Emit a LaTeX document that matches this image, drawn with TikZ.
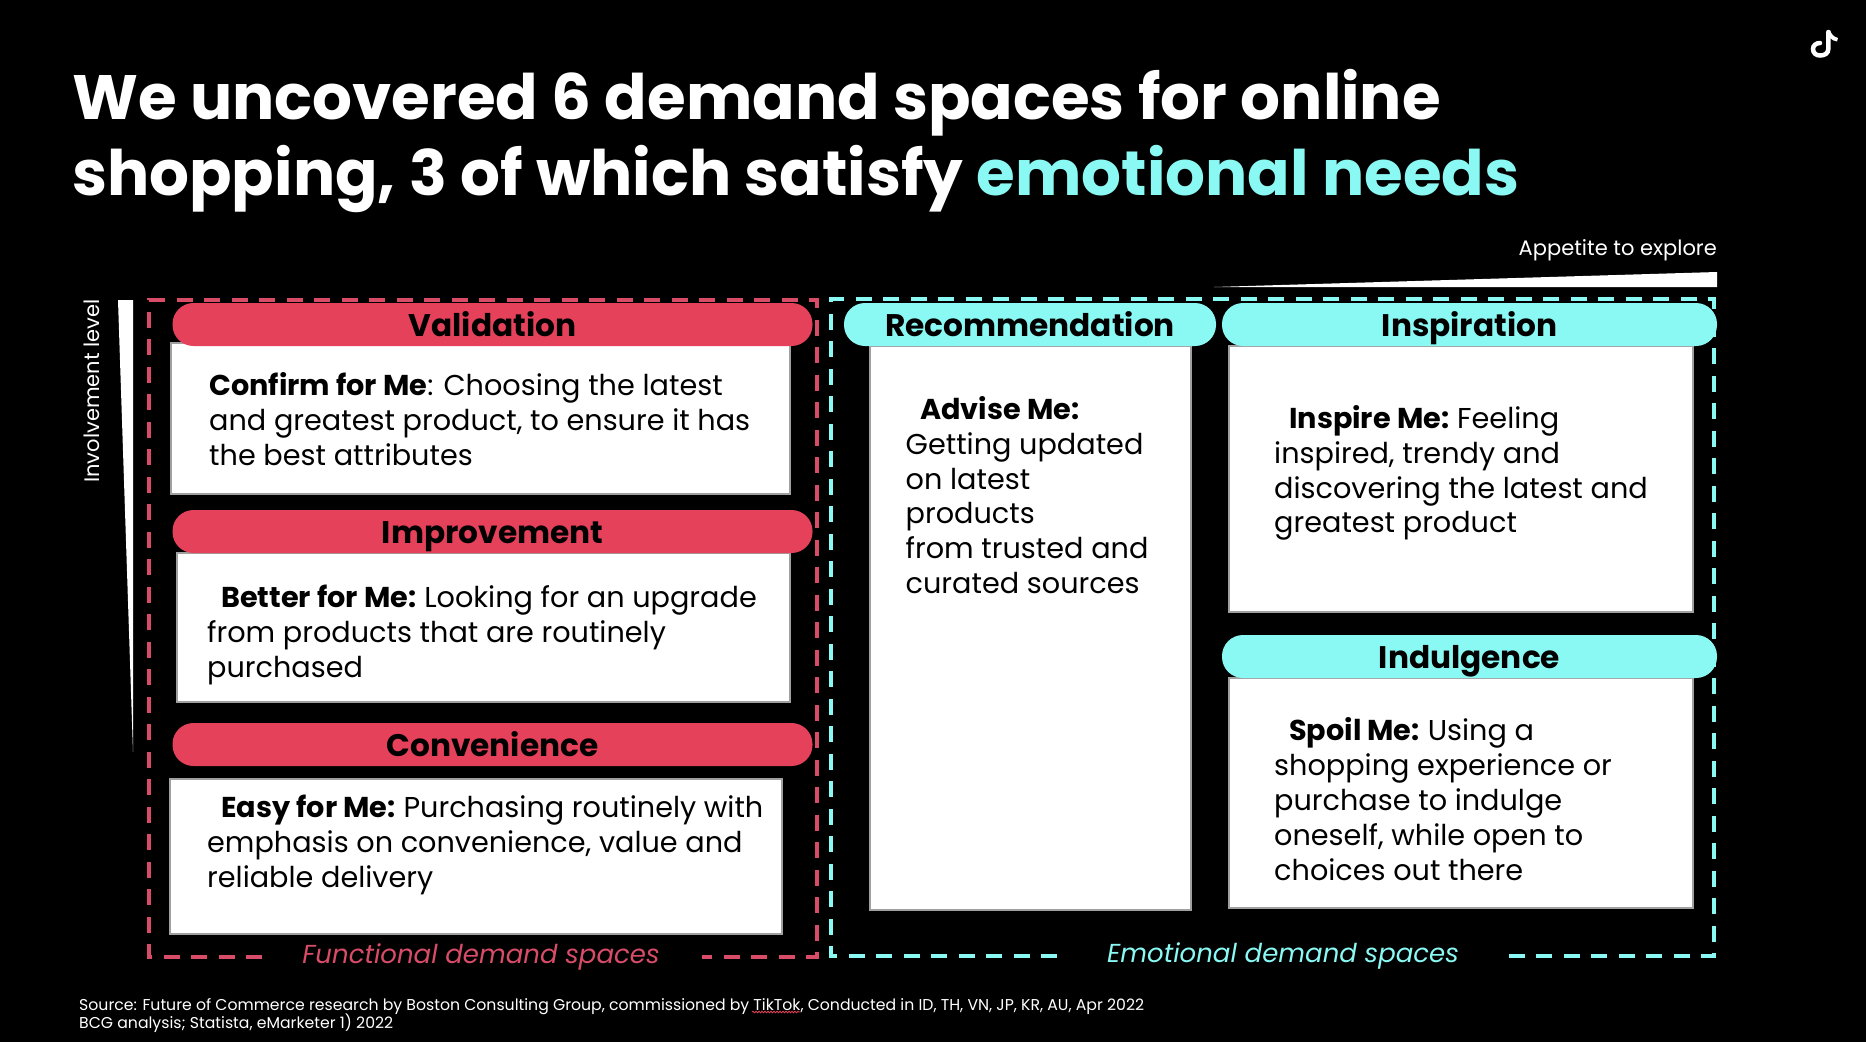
\documentclass[tikz,border=0pt]{standalone}
\usepackage{fontspec}
\setmainfont{Poppins}
\usetikzlibrary{decorations.pathmorphing}
\definecolor{bgk}{HTML}{000000}
\definecolor{redc}{HTML}{E6415A}
\definecolor{reddash}{HTML}{D94C68}
\definecolor{tealc}{HTML}{8AF8F3}
\definecolor{shadowg}{HTML}{A0A0A0}
\tikzset{
  x=1pt,y=-1pt,
  pillred/.style={fill=redc,text=black,rounded corners=21pt,inner sep=0pt,minimum height=43pt,text height=24pt,text depth=0pt,font=\fontsize{31.2}{34}\selectfont\bfseries},
  pillteal/.style={fill=tealc,text=black,rounded corners=21pt,inner sep=0pt,minimum height=43pt,text height=24pt,text depth=0pt,font=\fontsize{31.2}{34}\selectfont\bfseries},
  whitebox/.style={fill=white,draw=shadowg,line width=1.5pt,inner sep=0pt},
  bodytext/.style={anchor=north west,inner sep=0pt,align=left,text=black,font=\fontsize{28.7}{34.9}\selectfont},
  dashred/.style={draw=reddash,line width=3.4pt,dash pattern=on 16pt off 11.5pt},
  dashteal/.style={draw=tealc,line width=3.4pt,dash pattern=on 16pt off 11.5pt},
  titletext/.style={anchor=base west,inner sep=0pt,text=white,font=\fontsize{62.7}{76}\selectfont\bfseries},
  smalltext/.style={text=white,inner sep=0pt},
}
\newcommand{\tightgap}{\hspace{8pt}}
\begin{document}
\begin{tikzpicture}
\fill[bgk] (0,0) rectangle (1866,1042);
\useasboundingbox (0,0) rectangle (1866,1042);
% title
\node[titletext] (t1) at (72,119) {We uncovered 6 demand spaces for online};
\node[titletext] (t2) at (72,195) {shopping, 3 of which satisfy \textcolor{tealc}{emotional needs}};
% logo
\draw[white,line width=4.5pt,line cap=round] (1828.3,32) -- (1828.3,49) .. controls (1828.3,53) and (1825,55.5) .. (1820,55.5) .. controls (1816,55.5) and (1813,53) .. (1813,49) .. controls (1813,45.5) and (1816,43) .. (1820,43);
\fill[white] (1830,30) .. controls (1831,34) and (1834,37) .. (1838,38) -- (1837,41.5) .. controls (1834,41) and (1832,40) .. (1830,38) -- cycle;
% triangles
\fill[white] (118,300) -- (133,300) -- (133,752) -- cycle;
\fill[white] (1214,287) -- (1717,272) -- (1717,287) -- cycle;
\node[smalltext,anchor=east,font=\fontsize{21}{26}\selectfont] (appetite) at (1717,250) {Appetite to explore};
\node[smalltext,rotate=90,font=\fontsize{21}{26}\selectfont] (involve) at (92,391) {Involvement level};
% dashed frames
\coordinate (rs) at (262,957); \coordinate (re) at (702,957);
\draw[dashred] (rs) -- (149,957) -- (149,300) -- (817,300) -- (817,957) -- (re);
\coordinate (ts) at (1057,956); \coordinate (te) at (1505,956);
\draw[dashteal] (ts) -- (831,956) -- (831,299) -- (1714,299) -- (1714,956) -- (te);
\node[smalltext,text=reddash,font=\fontsize{26}{30}\selectfont\itshape] (flabel) at (481,957) {Functional demand spaces};
\node[smalltext,text=tealc,font=\fontsize{26}{30}\selectfont\itshape] (elabel) at (1283,956) {Emotional demand spaces};
% white boxes
\node[whitebox,minimum width=619pt,minimum height=151pt] (b1) at (480.5,418.5) {};
\node[whitebox,minimum width=613pt,minimum height=149pt] (b2) at (483.5,627.5) {};
\node[whitebox,minimum width=612pt,minimum height=155pt] (b3) at (476,856.5) {};
\node[whitebox,minimum width=321pt,minimum height=564pt] (b4) at (1030.5,628) {};
\node[whitebox,minimum width=464pt,minimum height=266pt] (b5) at (1461,479) {};
\node[whitebox,minimum width=464pt,minimum height=230pt] (b6) at (1461,793) {};
% pills
\node[pillred,minimum width=640pt] (p1) at (492.5,324.5) {Validation};
\node[pillred,minimum width=640pt] (p2) at (492.5,531.5) {Improvement};
\node[pillred,minimum width=640pt] (p3) at (492.5,744.5) {Convenience};
\node[pillteal,minimum width=372pt] (p4) at (1030,324.5) {Recommendation};
\node[pillteal,minimum width=495pt] (p5) at (1469.5,324.5) {Inspiration};
\node[pillteal,minimum width=495pt] (p6) at (1469.5,656.5) {Indulgence};
% body text (top = first baseline - 24.4)
\node[bodytext] (x1) at (209,371) {\strut\textbf{Confirm for Me}: Choosing the latest\\and greatest product, to ensure it has\\the best attributes};
\node[bodytext] (x2) at (207,583) {\strut\hspace*{14pt}\textbf{Better for Me:}\tightgap Looking for an upgrade\\from products that are routinely\\purchased};
\node[bodytext] (x3) at (207,793) {\strut\hspace*{14pt}\textbf{Easy for Me:}\tightgap Purchasing routinely with\\emphasis on convenience, value and\\reliable delivery};
\node[bodytext] (x4) at (905.5,394.6) {\strut\hspace*{14.5pt}\textbf{Advise Me:}\\Getting updated\\on latest\\products\\from trusted and\\curated sources};
\node[bodytext] (x5) at (1274,403.6) {\strut\hspace*{15pt}\textbf{Inspire Me:}\tightgap Feeling\\inspired, trendy and\\discovering the latest and\\greatest product};
\node[bodytext] (x6) at (1274,716) {\strut\hspace*{15pt}\textbf{Spoil Me:}\tightgap Using a\\shopping experience or\\purchase to indulge\\oneself, while open to\\choices out there};
% source
\node[smalltext,anchor=north west,align=left,font=\fontsize{15.7}{15.2}\selectfont] (src) at (79,998) {\strut Source: Future of Commerce research by Boston Consulting Group, commissioned by TikTok, Conducted in ID, TH, VN, JP, KR, AU, Apr 2022\\[-2.4pt]BCG analysis; Statista, eMarketer 1) 2022};
\coordinate (sq1) at (752,1012); \coordinate (sq2) at (800,1012);
\draw[redc,line width=.8pt,decorate,decoration={snake,amplitude=.8pt,segment length=3pt}] (sq1) -- (sq2);
\end{tikzpicture}
\end{document}
